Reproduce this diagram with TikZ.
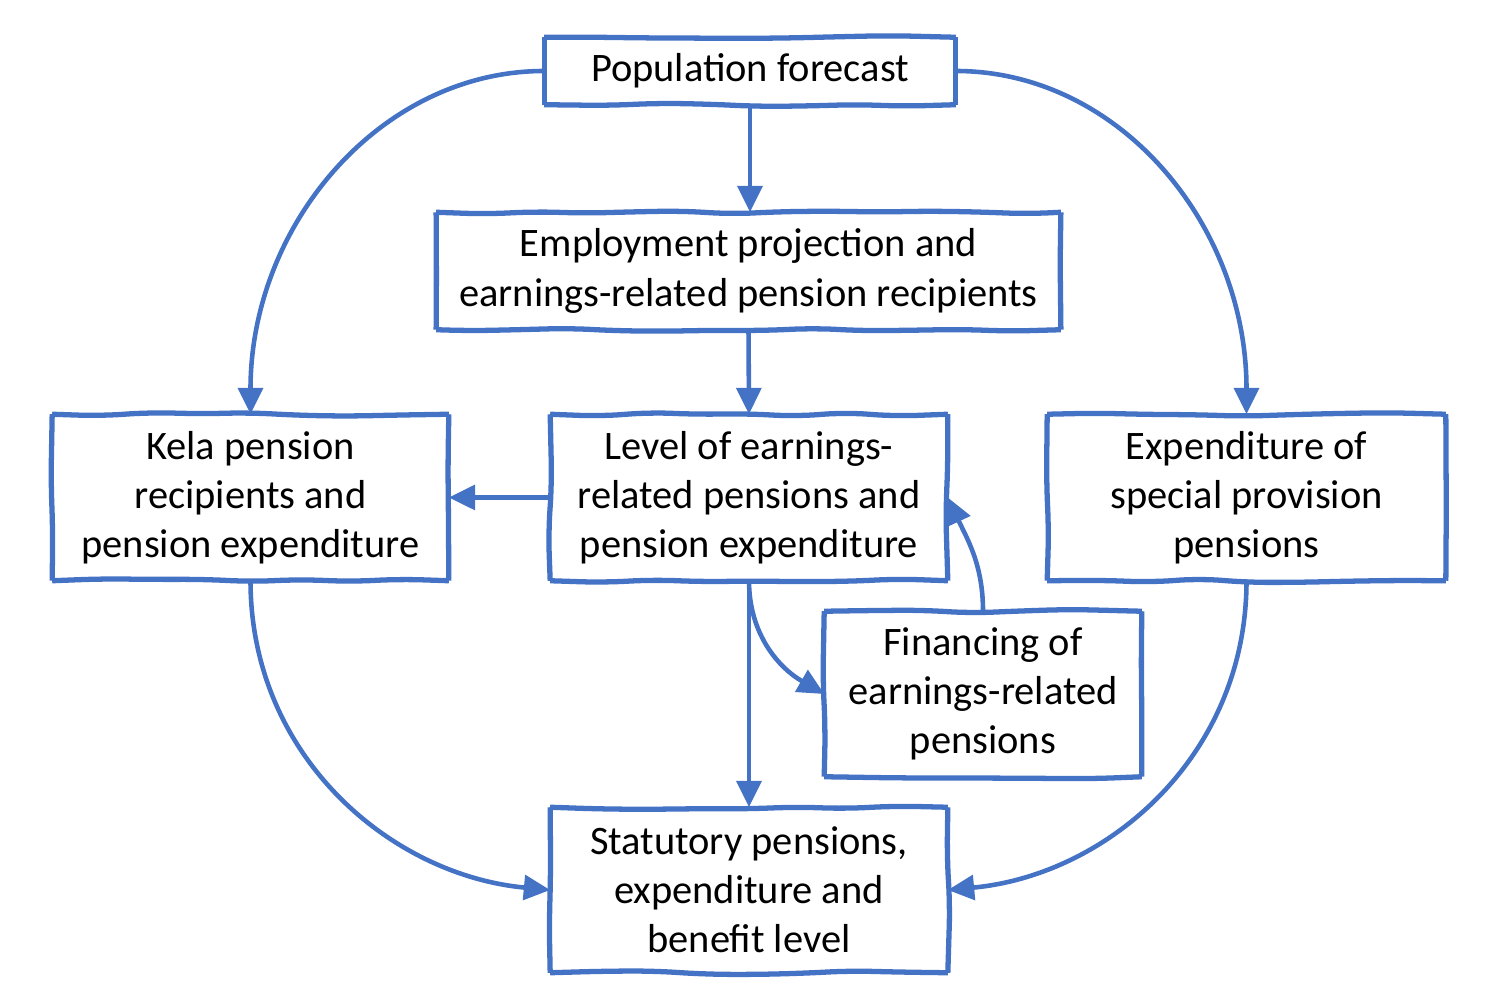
\documentclass[tikz,border=0pt]{standalone}
\usepackage{fontspec}
\setmainfont{Carlito}
\usetikzlibrary{arrows.meta,decorations.pathmorphing}
\definecolor{myblue}{HTML}{4472C4}
\newcommand\wobbox[1]{%
  \draw[wob] (#1.north west) -- (#1.north east);
  \draw[wob] (#1.north east) -- (#1.south east);
  \draw[wob] (#1.south east) -- (#1.south west);
  \draw[wob] (#1.south west) -- (#1.north west);}
\begin{document}
\begin{tikzpicture}[x=0.01cm,y=0.01cm,
 box/.style={inner sep=0pt, align=center, font=\fontsize{11.5}{14}\selectfont},
 wob/.style={draw=myblue, line width=1.5pt, line cap=square, decorate,
   decoration={random steps,segment length=14pt,amplitude=0.6pt}, rounded corners=6pt},
 arr/.style={draw=myblue, line width=1.3pt, -{Triangle[length=7.5pt,width=7pt]}}]
\pgfmathsetseed{11}
\useasboundingbox (0,0) rectangle (1500,1000);
\node[box, minimum width=4.1cm, minimum height=0.66cm] (pop) at (750,929) {Population forecast};
\node[box, minimum width=6.23cm, minimum height=1.16cm] (emp) at (748.5,729) {Employment projection and\\earnings-related pension recipients};
\node[box, minimum width=3.95cm, minimum height=1.65cm] (kela) at (250.5,502.5) {Kela pension\\recipients and\\pension expenditure};
\node[box, minimum width=3.96cm, minimum height=1.65cm] (level) at (749,502.5) {Level of earnings-\\related pensions and\\pension expenditure};
\node[box, minimum width=3.97cm, minimum height=1.65cm] (spec) at (1246.5,502.5) {Expenditure of\\special provision\\pensions};
\node[box, minimum width=3.16cm, minimum height=1.64cm] (fin) at (983,306) {Financing of\\earnings-related\\pensions};
\node[box, minimum width=3.96cm, minimum height=1.64cm] (stat) at (749,110) {Statutory pensions,\\expenditure and\\benefit level};

\wobbox{pop}
\wobbox{emp}
\wobbox{kela}
\wobbox{level}
\wobbox{spec}
\wobbox{fin}
\wobbox{stat}

\draw[arr] (pop.south) -- (pop.south |- emp.north);
\draw[arr] (emp.south) -- (level.north);
\draw[arr] (level.west) -- (kela.east);
\draw[arr] (level.south) -- (stat.north);
\draw[arr] (level.south) to[out=-90,in=150] (fin.west);
\draw[arr] (fin.north) to[out=90,in=-65] (level.east);
\draw[arr] (pop.west) .. controls +(-163,0) and +(0,190) .. (kela.north);
\draw[arr] (pop.east) .. controls +(163,0) and +(0,190) .. (spec.north);
\draw[arr] (kela.south) .. controls +(0,-175) and +(-160,15) .. (stat.west);
\draw[arr] (spec.south) .. controls +(0,-175) and +(160,15) .. (stat.east);
\end{tikzpicture}
\end{document}
